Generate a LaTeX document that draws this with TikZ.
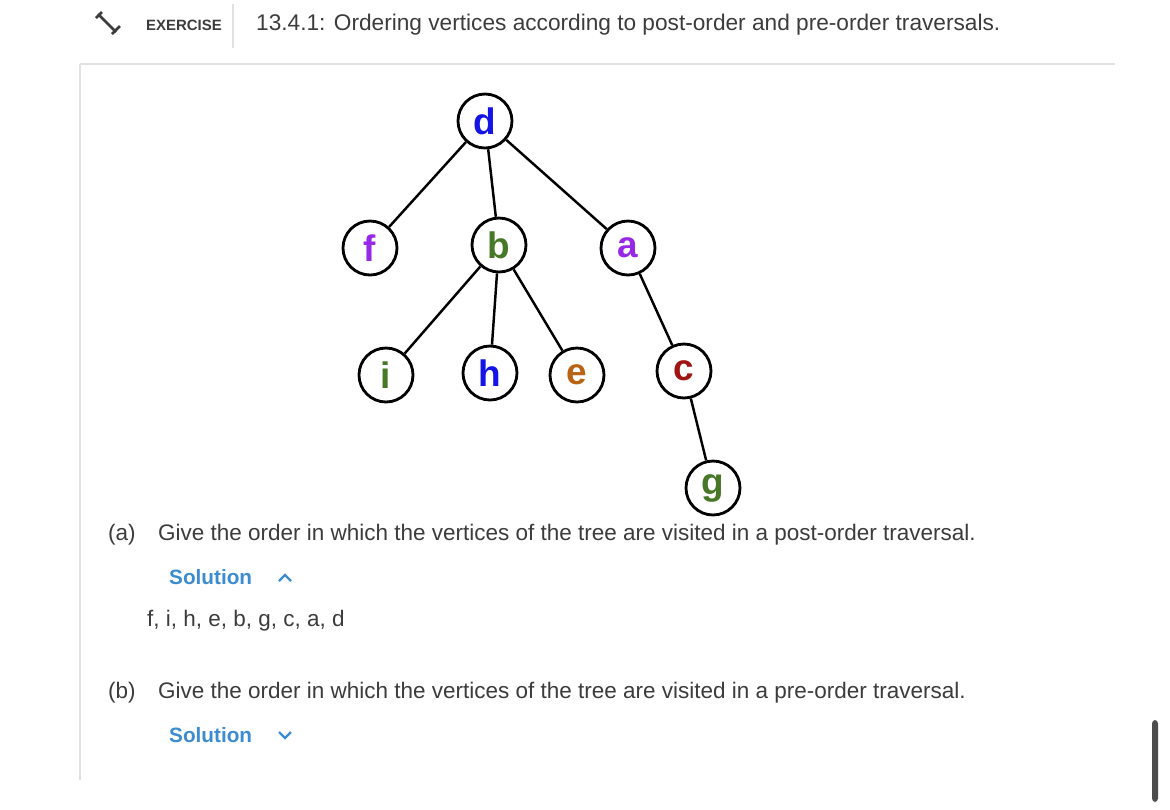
\documentclass[tikz,border=0pt]{standalone}
\usepackage{fontspec}
\setmainfont{Liberation Sans}
\definecolor{cblue}{RGB}{20,20,230}
\definecolor{cpurple}{RGB}{150,40,230}
\definecolor{cgreen}{RGB}{70,120,40}
\definecolor{cbrown}{RGB}{185,100,20}
\definecolor{cred}{RGB}{160,20,20}
\definecolor{txt}{RGB}{60,60,60}
\definecolor{link}{RGB}{60,140,210}
\definecolor{rule}{RGB}{225,225,225}
\begin{document}
\begin{tikzpicture}[x=0.02cm,y=-0.02cm,
  vtx/.style={circle,draw,line width=1.6pt,minimum size=1.08cm,inner sep=0pt,font=\fontsize{21}{21}\selectfont\bfseries},
  edge/.style={line width=1.4pt},
  body/.style={anchor=west,text=txt,font=\fontsize{12.8}{13}\selectfont},
  sol/.style={anchor=west,text=link,font=\fontsize{11.8}{12}\selectfont\bfseries}]
\useasboundingbox[fill=white] (0,0) rectangle (1170,809);
% header
\draw[line width=1.5pt,txt] (98,14) -- (116,32);
\draw[line width=1.5pt,txt] (96,18) -- (102,12);
\draw[line width=1.5pt,txt] (112,34) -- (120,26);
\node[anchor=west,font=\fontsize{8.5}{9}\selectfont\bfseries,text=txt] (ex) at (140,25) {EXERCISE};
\draw[rule,line width=1pt] (233,4) -- (233,48);
\node[anchor=west,font=\fontsize{12.9}{13}\selectfont,text=txt] (title) at (250,25) {13.4.1: Ordering vertices according to post-order and pre-order traversals.};
\draw[rule,line width=0.8pt] (80,64) -- (1115,64);
\draw[rule,line width=0.8pt] (80,64) -- (80,780);
\fill[black!70,rounded corners=2pt] (1152,720) rectangle (1158,802);
% tree
\node[vtx,text=cblue] (d) at (485,121) {d};
\node[vtx,text=cpurple] (f) at (370,248) {f};
\node[vtx,text=cgreen] (b) at (499,245) {b};
\node[vtx,text=cpurple] (a) at (628,248) {a};
\node[vtx,text=cgreen] (i) at (386,375) {i};
\node[vtx,text=cblue] (h) at (490,373) {h};
\node[vtx,text=cbrown] (e) at (577,375) {e};
\node[vtx,text=cred] (c) at (684,371) {c};
\node[vtx,text=cgreen] (g) at (713,488) {g};
\draw[edge] (d)--(f) (d)--(b) (d)--(a) (b)--(i) (b)--(h) (b)--(e) (a)--(c) (c)--(g);
% text
\node[body] (pa) at (102,535) {(a)};
\node[body] (qa) at (152,535) {Give the order in which the vertices of the tree are visited in a post-order traversal.};
\node[sol] (sa) at (163,577) {Solution};
\draw[link,line width=1.3pt] (279,581) -- (285,575) -- (291,581);
\node[body] (ans) at (141,621) {f, i, h, e, b, g, c, a, d};
\node[body] (pb) at (102,693) {(b)};
\node[body] (qb) at (152,693) {Give the order in which the vertices of the tree are visited in a pre-order traversal.};
\node[sol] (sb) at (163,735) {Solution};
\draw[link,line width=1.3pt] (279,732) -- (285,738) -- (291,732);
\end{tikzpicture}
\end{document}
